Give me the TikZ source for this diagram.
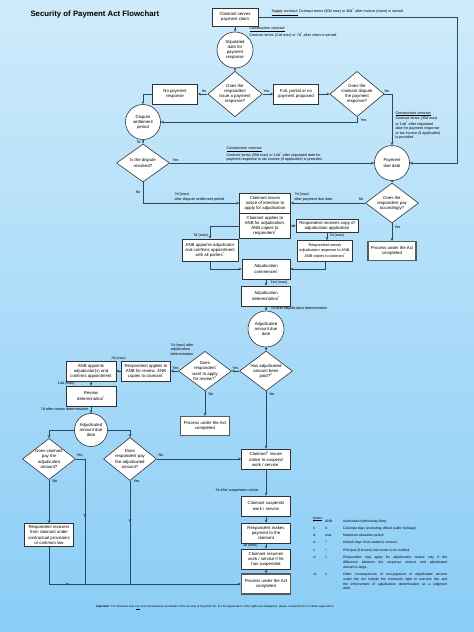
\documentclass[tikz,border=0pt]{standalone}
\usepackage{fontspec}
\setmainfont{Liberation Sans}
\usetikzlibrary{arrows.meta, shapes.geometric, decorations.markings}
\definecolor{SkyTop}{RGB}{206,235,251}
\definecolor{SkyBottom}{RGB}{138,205,246}
\definecolor{FlowTeal}{RGB}{38,74,96}
\definecolor{BoxEdge}{RGB}{50,50,50}
\definecolor{EndEdge}{RGB}{90,90,90}
\newcommand{\chartbox}{\fontsize{4.3}{5.1}\selectfont}
\newcommand{\charttight}{\fontsize{3.8}{4.6}\selectfont}
\newcommand{\chartlbl}{\fontsize{3.7}{4.5}\selectfont}
\newcommand{\chartnote}{\fontsize{3.4}{4.9}\selectfont}
\newcommand{\chartfoot}{\fontsize{2.8}{3.4}\selectfont}

\begin{document}
\begin{tikzpicture}[x=1pt, y=-1pt, every node/.style={font=\chartbox},
    box/.style={draw=BoxEdge, fill=white, line width=0.6pt, align=center, inner sep=0.5pt, minimum width=49, minimum height=20},
    endbox/.style={box, draw=EndEdge, line width=1.3pt},
    circ/.style={circle, draw=BoxEdge, fill=white, line width=0.6pt, align=center, inner sep=0pt, minimum size=36},
    decision/.style={diamond, aspect=1.2, draw=BoxEdge, fill=white, line width=0.6pt, align=center, inner sep=0pt, minimum width=53, minimum height=40},
    flow/.style={color=FlowTeal, line width=1pt, -{Stealth[length=3pt, width=2.6pt]}},
    plainflow/.style={color=FlowTeal, line width=1pt},
    midtip/.style={postaction={decorate, decoration={markings, mark=at position #1 with {\arrow{Stealth[length=3pt, width=2.6pt]}}}}},
    lbl/.style={font=\chartlbl, inner sep=0.3pt, align=left}]

        % --- Background ---
        \useasboundingbox (0,0) rectangle (474,632);
        \shade[top color=SkyTop, bottom color=SkyBottom] (0,0) rectangle (474,632);
        \node[font=\fontsize{7.8}{9}\selectfont\bfseries, anchor=west] (title) at (27,14) {Security of Payment Act Flowchart};

        % --- Payment claim and payment response ---
        \node[box, minimum width=46, minimum height=18] (claim) at (235,17) {Claimant serves\\payment claim};
        \node[circ] (stip) at (235,50) {Stipulated\\date for\\payment\\response};
        \node[decision, minimum height=45] (issue) at (235,94) {Does the\\respondent\\issue a payment\\response?};
        \node[box, minimum width=45] (nopay) at (175,94) {No payment\\response};
        \node[box, minimum width=45] (full) at (296,94) {Full, partial or no\\payment proposed};
        \node[decision, minimum height=45] (dispute) at (357,94) {Does the\\claimant dispute\\the payment\\response?};
        \node[circ, minimum size=35] (dsp) at (143,122) {Dispute\\settlement\\period};
        \node[decision, minimum height=38] (resolved) at (143,163) {Is the dispute\\resolved?};
        \node[circ, minimum size=35] (pdd) at (392,163) {Payment\\due date};
        \node[decision] (accord) at (392,203) {Does the\\respondent pay\\accordingly?};
        \node[endbox, minimum width=48, minimum height=19] (done1) at (392,251) {Process under the Act\\completed};

        % --- Adjudication application ---
        \node[box, minimum width=51] (notice) at (265,203) {Claimant issues\\notice of intention to\\apply for adjudication};
        \node[box, minimum width=51, minimum height=25, anchor=north] (applies) at (notice.south) {Claimant applies to\\ANB for adjudication.\\ANB copies to\\respondent\textsuperscript{*}};
        \node[box, minimum width=62, minimum height=13] (receives) at (327,225.5) {Respondent receives copy of\\adjudication application};
        \node[box, font=\charttight, minimum width=55, minimum height=21] (serves) at (325,251) {Respondent serves\\adjudication response to ANB.\\ANB copies to claimant\textsuperscript{*}};
        \node[box, minimum width=56, minimum height=22] (appoint) at (210,250) {ANB appoints adjudicator\\and confirms appointment\\with all parties\textsuperscript{*}};
        \node[box, minimum width=48] (commence) at (266,269) {Adjudication\\commences};
        \node[box] (determ) at (266,296) {Adjudication\\determination\textsuperscript{*}};
        \node[circ] (due1) at (266,329) {Adjudicated\\amount due\\date};
        \node[decision, minimum height=39] (paid) at (266,371) {Has adjudicated\\amount been\\paid?\textsuperscript{\#}};

        % --- Review ---
        \node[decision, minimum height=39] (review) at (205,371) {Does\\respondent\\want to apply\\for review?\textsuperscript{\dag}};
        \node[box] (rapplies) at (146,371) {Respondent applies to\\ANB for review. ANB\\copies to claimant\textsuperscript{*}};
        \node[box, minimum width=50] (appoint2) at (91,371) {ANB appoints\\adjudicator(s) and\\confirms appointment};
        \node[box, minimum width=50] (revdet) at (91,396) {Review\\determination\textsuperscript{*}};
        \node[circ, minimum size=33] (due2) at (91,430) {Adjudicated\\amount due\\date};
        \node[decision] (cpay) at (49,459) {Does claimant\\pay the\\adjudicated\\amount?};
        \node[decision] (rpay) at (130,459) {Does\\respondent pay\\the adjudicated\\amount?};
        \node[endbox, minimum height=19] (done2) at (205,426) {Process under the Act\\completed};
        \node[box, minimum height=23] (recovers) at (49,535) {Respondent recovers\\from claimant under\\contractual provisions\\or common law};

        % --- Suspension ---
        \node[box] (suspend) at (266,459) {Claimant\textsuperscript{\#} issues\\notice to suspend\\work / service\textsuperscript{*}};
        \node[box] (suspends) at (266,506) {Claimant suspends\\work / service};
        \node[box] (makes) at (266,533) {Respondent makes\\payment to the\\claimant};
        \node[box] (resumes) at (266,559) {Claimant resumes\\work / service if he\\has suspended};
        \node[endbox] (done3) at (266,584) {Process under the Act\\completed};

        % --- Connectors ---
        \coordinate (supplyturn) at (457,17);
        \coordinate (bottomjoin) at (85,584);
        \draw[flow] (claim) -- (stip);
        \draw[flow] (stip) -- (issue);
        \draw[flow] (issue) -- (nopay);
        \draw[flow] (nopay.west) -| (dsp.north);
        \draw[flow] (issue) -- (full);
        \draw[flow] (full) -- (dispute);
        \draw[flow] (dispute.south) |- (dsp.east);
        \draw[flow] (dispute.east) -| (pdd.north);
        \draw[flow] (claim.east) -- (supplyturn) |- (pdd.east);
        \draw[flow] (dsp) -- (resolved);
        \draw[flow] (resolved) -- (pdd);
        \draw[flow] (resolved.south) |- (notice.west);
        \draw[flow] (pdd) -- (accord);
        \draw[flow] (accord) -- (notice);
        \draw[flow] (accord) -- (done1);
        \draw[flow] (applies) -- (receives);
        \draw[flow] (receives.south) -- (receives.south |- serves.north);
        \draw[flow] (serves.south) |- (commence.east);
        \draw[flow] (applies.west) -| (appoint.north);
        \draw[flow] (appoint.south) |- (commence.west);
        \draw[flow] (commence) -- (determ);
        \draw[flow] (determ) -- (due1);
        \draw[flow] (due1) -- (paid);
        \draw[flow] (paid) -- (review);
        \draw[flow] (review) -- (rapplies);
        \draw[flow] (rapplies) -- (appoint2);
        \draw[flow] (appoint2) -- (revdet);
        \draw[flow] (revdet) -- (due2);
        \draw[flow] (due2.west) -| (cpay.north);
        \draw[flow] (due2.east) -| (rpay.north);
        \draw[flow] (review) -- (done2);
        \draw[flow] (paid) -- (suspend);
        \draw[flow] (rpay) -- (suspend);
        \draw[flow] (cpay) -- (recovers);
        \draw[flow, midtip=0.25] (recovers.south) |- (done3.west);
        \draw[plainflow, midtip=0.5] (cpay.east) -| (bottomjoin);
        \draw[plainflow, midtip=0.4] (rpay.south) -- (rpay.south |- bottomjoin);
        \draw[flow] (suspend) -- (suspends);
        \draw[flow] (suspends) -- (makes);
        \draw[flow] (makes) -- (resumes);
        \draw[flow] (resumes) -- (done3);

        % --- Connector labels ---
        \node[lbl, anchor=south west] (supplytxt) at (271,16) {\underline{Supply contract:} Contract terms (60d max) or 30d\textsuperscript{\textasciicircum} after invoice (claim) is served};
        \node[lbl, anchor=north west] (constrone) at (249,26.5) {\underline{Construction contract:}\\Contract terms (21d max) or 7d\textsuperscript{\textasciicircum} after claim is served};
        \node[lbl, anchor=south east] (noone) at (207,93) {No};
        \node[lbl, anchor=south west] (yesone) at (263,93) {Yes};
        \node[lbl, anchor=south west] (notwo) at (384,93) {No};
        \node[lbl, anchor=north west] (yestwo) at (360,118) {Yes};
        \node[lbl, anchor=north west] (constrtwo) at (395,111) {\underline{Construction contract:}\\Contract terms (35d max)\\or 14d\textsuperscript{\textasciicircum} after stipulated\\date for payment response\\or tax invoice (if applicable)\\is provided};
        \node[lbl, anchor=east] (dsptime) at (141,142.5) {7d};
        \node[lbl, anchor=south west] (yesthree) at (172,162) {Yes};
        \node[lbl, anchor=south west] (constrthree) at (226,162) {\underline{Construction contract:}\\Contract terms (35d max) or 14d\textsuperscript{\textasciicircum} after stipulated date for\\payment response or tax invoice (if applicable) is provided};
        \node[lbl, anchor=north east] (nothree) at (141,190) {No};
        \node[lbl, anchor=south west] (settletime) at (174,201.5) {7d (max)\\after dispute settlement period};
        \node[lbl, anchor=south west] (pddtime) at (294,201.5) {7d (max)\\after payment due date};
        \node[lbl, anchor=south east] (nofour) at (364,201.5) {No};
        \node[lbl, anchor=north west] (yesfour) at (394,225) {Yes};
        \node[lbl, anchor=west] (receivetime) at (329,236) {7d (max)};
        \node[lbl, anchor=south east] (appointtime) at (208.5,237.5) {7d (max)};
        \node[lbl, anchor=west] (adjtime) at (270,282.5) {14d (max)};
        \node[lbl, anchor=west] (dettime) at (270,308.5) {7d after adjudication determination};
        \node[lbl, anchor=south] (yesfive) at (235.5,370.5) {Yes};
        \node[lbl, anchor=south east] (yessix) at (179,370.5) {Yes};
        \node[lbl, anchor=south west] (reviewtime) at (170,356) {7d (max) after\\adjudication\\determination};
        \node[lbl, anchor=south] (rapplytime) at (118.5,360.5) {7d (max)};
        \node[lbl, anchor=east] (revdettime) at (75,383.5) {14d (max)};
        \node[lbl, anchor=east] (duetime) at (89,409.5) {7d after review determination};
        \node[lbl, anchor=north west] (nofive) at (208,392) {No};
        \node[lbl, anchor=north west] (nosix) at (269,392) {No};
        \node[lbl, anchor=south west] (yesseven) at (76,457) {Yes};
        \node[lbl, anchor=north west] (noseven) at (52,479) {No};
        \node[lbl, anchor=south west] (noeight) at (158,457) {No};
        \node[lbl, anchor=north west] (yeseight) at (133,479) {Yes};
        \node[lbl, anchor=east] (susptime) at (259,491) {7d after suspension notice};
        \node[lbl, anchor=east] (resumetime) at (258,545.5) {3d (max)};

        % --- Notes and footnote ---
        \node[font=\chartnote, anchor=north west, inner sep=0pt] (notes) at (313,515.5) {%
            \begin{tabular}{@{}p{12pt}@{}p{18pt}@{}p{104pt}@{}}
            \multicolumn{3}{@{}l}{\underline{Notes}}\\[-2.4pt]
            i & ANB & Authorised Nominating Body\\[2.3pt]
            ii & d & Calendar days (excluding official public holidays)\\[2.3pt]
            iii & max & Maximum allowable period\\[2.3pt]
            iv & \textasciicircum & Default days if not stated in contract\\[2.3pt]
            v & * & Principal (if known) and owner to be notified\\[2.3pt]
            vi & \dag & Respondent may apply for adjudication review only if the\linebreak difference between the response amount and adjudicated\linebreak amount is large.\\[2.3pt]
            vii & \# & Other consequences of non-payment of adjudicated amount\linebreak under the Act include the claimant's right to exercise lien and\linebreak the enforcement of adjudication determination as a judgment\linebreak debt.
            \end{tabular}};
        \node[font=\chartfoot, anchor=west, inner sep=0pt] (footnote) at (95,607) {\textsuperscript{*}\textbf{Important}: The flowchart does \underline{not} cover all situations and details of the Security of Payment Act. For full appreciation of the rights and obligations, please consult the Act or obtain legal advice.};

\end{tikzpicture}
\end{document}
